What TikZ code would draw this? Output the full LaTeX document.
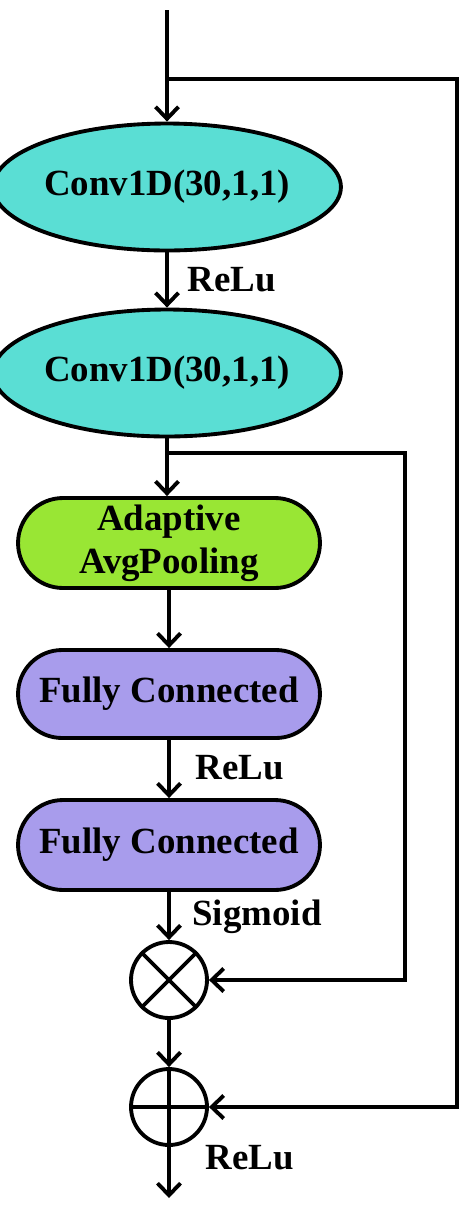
\documentclass[tikz,border=0pt]{standalone}
\usepackage{fontspec}
\setmainfont{Liberation Serif}
\usepackage{xcolor}
\usepackage{tikz}
\usetikzlibrary{arrows.meta,shapes.geometric,shapes.misc}

\definecolor{convCyan}{RGB}{90,222,212}
\definecolor{poolGreen}{RGB}{153,230,52}
\definecolor{fcPurple}{RGB}{168,156,236}

\begin{document}
\begin{tikzpicture}[x=0.02cm,y=-0.02cm,
                    every node/.style={font=\fontsize{21}{24.5}\selectfont\bfseries},
                    convblock/.style={ellipse, draw, line width=2.2pt, fill=convCyan,
                                      minimum width=6cm, minimum height=2.54cm, inner sep=0pt},
                    pillblock/.style 2 args={rounded rectangle, draw, line width=2.2pt, fill=#1,
                                      minimum width=6.04cm, minimum height=#2, inner sep=0pt,
                                      align=center},
                    opcircle/.style={circle, draw, line width=2.2pt, minimum size=1.52cm, inner sep=0pt},
                    flowline/.style={line width=2.2pt, -{Straight Barb[length=2.4mm,width=4.6mm,line width=2.2pt]}}
                   ]
  \useasboundingbox (0,0) rectangle (474,1211);

  \node[convblock] (conv1) at (167,187) {Conv1D(30,1,1)};
  \node[convblock] (conv2) at (167,373) {Conv1D(30,1,1)};
  \node[pillblock={poolGreen}{1.8cm}] (adaptPool) at (169,543) {Adaptive\\AvgPooling};
  \node[pillblock={fcPurple}{1.76cm}] (fullyConn1) at (169,694) {Fully Connected};
  \node[pillblock={fcPurple}{1.8cm}] (fullyConn2) at (169,845) {Fully Connected};
  \node[opcircle] (mulNode) at (169,980) {};
  \node[opcircle] (addNode) at (169,1107) {};

  \coordinate (inTop) at (167,10);
  \coordinate (splitTop) at (167,79);
  \coordinate (outerRight) at (457,79);
  \coordinate (splitMid) at (167,453);
  \coordinate (innerRight) at (405,453);
  \coordinate (outBottom) at (169,1198);

  % signs inside the two circles
  \draw[line width=2.2pt] (mulNode.north west) -- (mulNode.south east)
                          (mulNode.north east) -- (mulNode.south west);
  \draw[line width=2.2pt] (addNode.west) -- (addNode.east);

  % main flow
  \draw[flowline] (inTop) -- (conv1);
  \draw[flowline] (conv1) -- (conv2);
  \draw[flowline] (conv2) -- (conv2 |- adaptPool.north);
  \draw[flowline] (adaptPool) -- (fullyConn1);
  \draw[flowline] (fullyConn1) -- (fullyConn2);
  \draw[flowline] (fullyConn2) -- (mulNode);
  \draw[flowline] (mulNode) -- (addNode.north);
  \draw[line width=2.2pt] (addNode.north) -- (addNode.south);
  \draw[flowline] (addNode) -- (outBottom);

  % skip connections
  \draw[flowline] (splitTop) -- (outerRight) |- (addNode.east);
  \draw[flowline] (splitMid) -- (innerRight) |- (mulNode.east);

  \node (reluA) at (232,280) {ReLu};
  \node (reluB) at (240,768) {ReLu};
  \node (sigmoidLabel) at (257,917) {Sigmoid};
  \node (reluC) at (250,1158) {ReLu};
\end{tikzpicture}
\end{document}
